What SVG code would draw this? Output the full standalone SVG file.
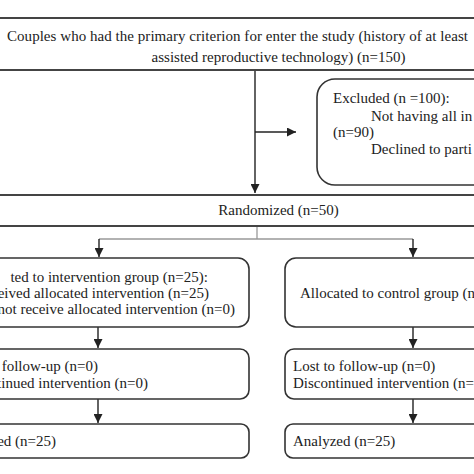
<svg xmlns="http://www.w3.org/2000/svg" width="474" height="474" viewBox="0 0 474 474">
<defs>
<marker id="ah" viewBox="0 0 10 10" refX="10" refY="5" markerWidth="9" markerHeight="9" markerUnits="userSpaceOnUse" orient="auto">
<path d="M0,0 L10,5 L0,10 Z" fill="#222"/>
</marker>
<style>
text{font-family:"Liberation Serif","Times New Roman",serif;font-size:15px;fill:#222}
.box{fill:#fff;stroke:#333;stroke-width:1.6}
.hl{stroke:#444;stroke-width:2;fill:none}
.c{stroke:#222;stroke-width:1.4;fill:none}
.g{stroke:#999;stroke-width:1.3;fill:none}
</style>
</defs>
<rect width="474" height="474" fill="#fff"/>
<g id="connectors">
<line class="c" x1="255" y1="70" x2="255" y2="193" marker-end="url(#ah)"/>
<line class="c" x1="255" y1="132" x2="296" y2="132" marker-end="url(#ah)"/>
<line class="g" x1="257" y1="226" x2="257" y2="239"/>
<line class="g" x1="99" y1="239" x2="413" y2="239"/>
<line class="c" x1="99" y1="239" x2="99" y2="257" marker-end="url(#ah)"/>
<line class="c" x1="413" y1="239" x2="413" y2="257" marker-end="url(#ah)"/>
<line class="c" x1="98" y1="327" x2="98" y2="348" marker-end="url(#ah)"/>
<line class="c" x1="413" y1="327" x2="413" y2="348" marker-end="url(#ah)"/>
<line class="c" x1="98" y1="399" x2="98" y2="423" marker-end="url(#ah)"/>
<line class="c" x1="413" y1="399" x2="413" y2="423" marker-end="url(#ah)"/>
</g>
<g id="enrol">
<line class="hl" x1="0" y1="18" x2="474" y2="18"/>
<line class="hl" x1="0" y1="70" x2="474" y2="70"/>
<text x="7" y="41" textLength="461" lengthAdjust="spacing">Couples who had the primary criterion for enter the study (history of at least</text>
<text x="278.5" y="62" text-anchor="middle">assisted reproductive technology) (n=150)</text>
</g>
<g id="excluded">
<rect class="box" x="317" y="79" width="220" height="106" rx="18"/>
<text x="333" y="103">Excluded (n =100):</text>
<text x="371" y="121">Not having all in</text>
<text x="333" y="137">(n=90)</text>
<text x="371" y="154">Declined to parti</text>
</g>
<g id="randomized">
<line class="hl" x1="0" y1="195" x2="474" y2="195"/>
<line class="hl" x1="0" y1="226" x2="474" y2="226"/>
<text x="278.5" y="215" text-anchor="middle">Randomized (n=50)</text>
</g>
<g id="alloc-int">
<rect class="box" x="-30" y="258" width="279" height="69" rx="11"/>
<text x="208" y="282" text-anchor="end">ted to intervention group (n=25):</text>
<text x="209" y="298" text-anchor="end">eived allocated intervention (n=25)</text>
<text x="235" y="314" text-anchor="end">not receive allocated intervention (n=0)</text>
</g>
<g id="alloc-ctrl">
<rect class="box" x="285" y="258" width="230" height="69" rx="11"/>
<text x="300" y="298">Allocated to control group (n</text>
</g>
<g id="follow-int">
<rect class="box" x="-30" y="349" width="279" height="50" rx="9"/>
<text x="98" y="371" text-anchor="end">follow-up (n=0)</text>
<text x="148" y="388" text-anchor="end">tinued intervention (n=0)</text>
</g>
<g id="follow-ctrl">
<rect class="box" x="285" y="349" width="230" height="50" rx="9"/>
<text x="293" y="371">Lost to follow-up (n=0)</text>
<text x="293" y="388">Discontinued intervention (n=</text>
</g>
<g id="anal-int">
<rect class="box" x="-30" y="424" width="279" height="34" rx="8"/>
<text x="56" y="446" text-anchor="end">ed (n=25)</text>
</g>
<g id="anal-ctrl">
<rect class="box" x="285" y="424" width="230" height="34" rx="8"/>
<text x="293" y="446">Analyzed (n=25)</text>
</g>
</svg>
